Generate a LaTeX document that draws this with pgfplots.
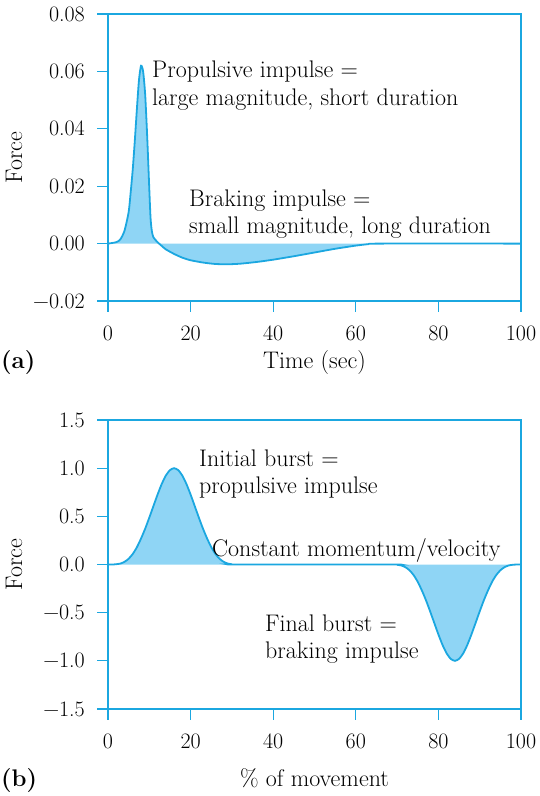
\documentclass[border=0pt]{standalone}
\usepackage{fontspec}
\usepackage{pgfplots}
\usepackage{pgfplotstable}
\pgfplotsset{compat=1.18}
\definecolor{curve}{RGB}{27,167,224}
\definecolor{fillc}{RGB}{143,213,245}

\pgfplotstableread[row sep=\\]{
x y\\
0 0\\ 2 0.0005\\ 3 0.0015\\ 4 0.0045\\ 5 0.011\\ 5.5 0.018\\ 6 0.026\\ 6.5 0.036\\
7 0.047\\ 7.5 0.057\\ 8 0.062\\ 8.5 0.060\\ 9 0.052\\ 9.5 0.037\\ 10 0.019\\
10.3 0.009\\ 10.6 0.0045\\ 11 0.0022\\ 12 0.0005\\ 13 -0.0008\\ 14 -0.0020\\
16 -0.0036\\ 18 -0.0049\\ 20 -0.0058\\ 23 -0.0066\\ 26 -0.0071\\ 29 -0.0072\\
32 -0.0070\\ 36 -0.0064\\ 40 -0.0056\\ 45 -0.0044\\ 50 -0.0031\\ 55 -0.0018\\
60 -0.0007\\ 63 -0.0002\\ 66 0\\ 100 0\\
}\dataA

\pgfplotstableread[row sep=\\]{
x y\\
0 0\\ 1 0\\ 2 0.003\\ 3 0.010\\ 4 0.028\\ 5 0.060\\ 6 0.110\\ 7 0.180\\ 8 0.270\\
9 0.372\\ 10 0.487\\ 11 0.607\\ 12 0.726\\ 13 0.835\\ 14 0.923\\ 15 0.980\\ 16 1.0\\
17 0.980\\ 18 0.923\\ 19 0.835\\ 20 0.726\\ 21 0.607\\ 22 0.487\\ 23 0.372\\
24 0.270\\ 25 0.180\\ 26 0.110\\ 27 0.060\\ 28 0.028\\ 29 0.010\\ 30 0.003\\ 31 0\\
69 0\\ 70 -0.003\\ 71 -0.010\\ 72 -0.028\\ 73 -0.060\\ 74 -0.110\\ 75 -0.180\\
76 -0.270\\ 77 -0.372\\ 78 -0.487\\ 79 -0.607\\ 80 -0.726\\ 81 -0.835\\ 82 -0.923\\
83 -0.980\\ 84 -1.0\\ 85 -0.980\\ 86 -0.923\\ 87 -0.835\\ 88 -0.726\\ 89 -0.607\\
90 -0.487\\ 91 -0.372\\ 92 -0.270\\ 93 -0.180\\ 94 -0.110\\ 95 -0.060\\ 96 -0.028\\
97 -0.010\\ 98 -0.003\\ 99 0\\ 100 0\\
}\dataB

\pgfplotsset{
  myax/.style={
    scale only axis, width=413pt, anchor=north west,
    xmin=0, xmax=100, xtick={0,20,40,60,80,100},
    xticklabels={0,20,40,60,80,100},
    scaled y ticks=false, scaled x ticks=false,
    tick align=outside, xtick pos=bottom, ytick pos=left,
    major tick length=10.5pt,
    axis line style={draw=curve, line width=1.3pt},
    tick style={draw=curve, line width=1.3pt},
    xticklabel style={anchor=north, inner sep=0pt, yshift=-14pt},
    yticklabel style={anchor=east, inner sep=0pt, xshift=-12.5pt},
  }
}

\begin{document}
\fontsize{22}{27}\selectfont
\begin{tikzpicture}[font=\fontsize{22}{27}\selectfont]
\path[use as bounding box] (0,0) rectangle (539pt,-796pt);

\begin{axis}[myax, at={(108pt,-14pt)}, height=287pt,
  ymin=-0.02, ymax=0.08,
  ytick={-0.02,0,0.02,0.04,0.06,0.08},
  yticklabels={−0.02,0.00,0.02,0.04,0.06,0.08}]
\addplot[fill=fillc, draw=none, smooth, tension=0.4] table[x=x,y=y] {\dataA};
\addplot[curve, line width=1.8pt, smooth, tension=0.4] table[x=x,y=y] {\dataA};
\end{axis}

\begin{axis}[myax, at={(108pt,-420pt)}, height=289pt,
  ymin=-1.5, ymax=1.5,
  ytick={-1.5,-1,-0.5,0,0.5,1,1.5},
  yticklabels={−1.5,−1.0,−0.5,0.0,0.5,1.0,1.5}]
\addplot[fill=fillc, draw=none, smooth, tension=0.4] table[x=x,y=y] {\dataB};
\addplot[curve, line width=1.8pt, smooth, tension=0.4] table[x=x,y=y] {\dataB};
\end{axis}

\begin{scope}[every node/.style={inner sep=0pt, font=\fontsize{24}{29}\selectfont}]
\node[anchor=base west] at (152pt,-77pt) {Propulsive impulse =};
\node[anchor=base west] at (152pt,-105pt) {large magnitude, short duration};
\node[anchor=base west] at (189pt,-206pt) {Braking impulse =};
\node[anchor=base west] at (189pt,-233pt) {small magnitude, long duration};
\node[anchor=base, rotate=90] at (22pt,-157.5pt) {Force};
\node[anchor=base] at (314.5pt,-368pt) {Time (sec)};
\node[anchor=base west] at (1pt,-368pt) {\textbf{(a)}};

\node[anchor=base west] at (199pt,-466pt) {Initial burst =};
\node[anchor=base west] at (199pt,-493pt) {propulsive impulse};
\node[anchor=base west] at (212pt,-556pt) {Constant momentum/velocity};
\node[anchor=base west] at (265pt,-631pt) {Final burst =};
\node[anchor=base west] at (265pt,-658pt) {braking impulse};
\node[anchor=base, rotate=90] at (22pt,-564.5pt) {Force};
\node[anchor=base] at (314.5pt,-786pt) {\% of movement};
\node[anchor=base west] at (1pt,-786pt) {\textbf{(b)}};
\end{scope}
\end{tikzpicture}
\end{document}
